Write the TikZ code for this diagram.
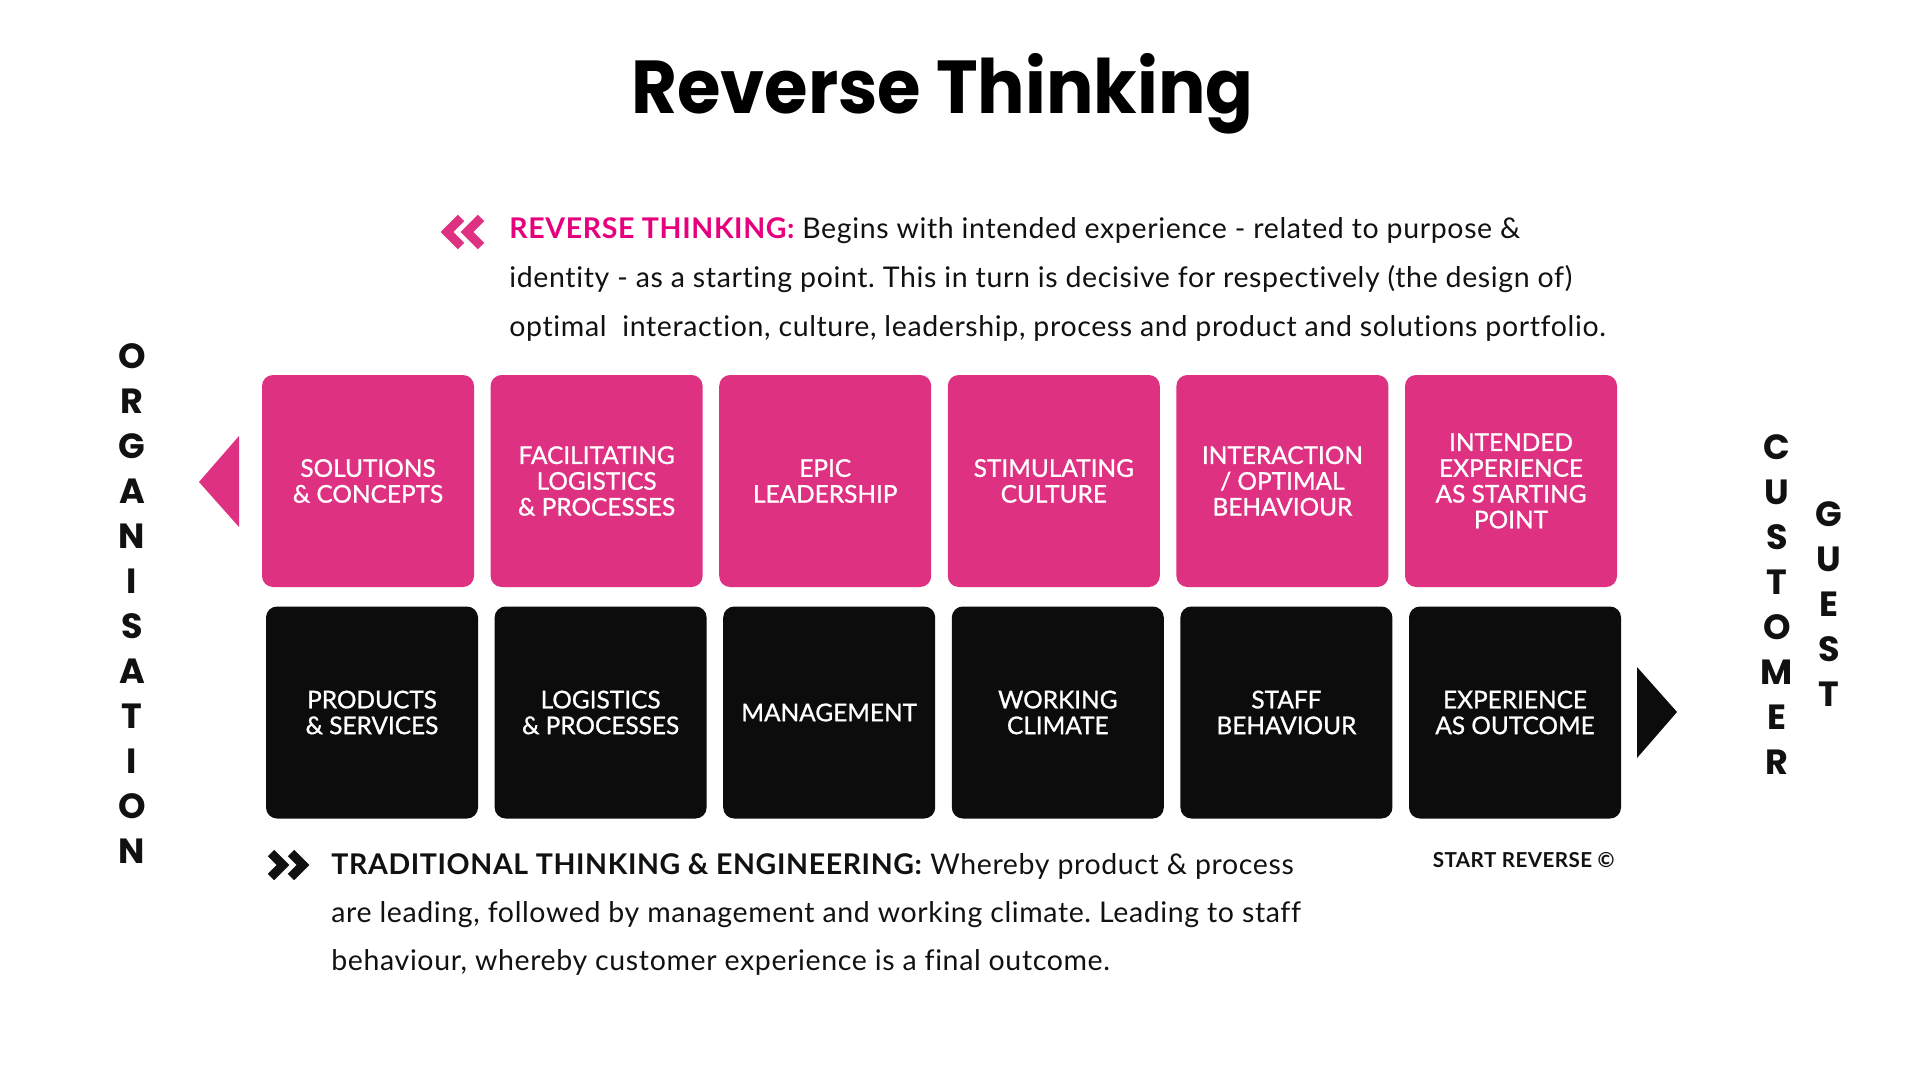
\documentclass[tikz,border=0pt]{standalone}
\usepackage{fontspec}
\setmainfont{Lato}[LetterSpace=2.2, Ligatures=NoCommon]
\newfontfamily\poppins{Poppins}
\newfontfamily\boxfont[FakeBold=1]{Lato}
\frenchspacing
\definecolor{boxpink}{HTML}{DE3182}
\definecolor{hotpink}{HTML}{E6007E}
\definecolor{boxblack}{HTML}{0C0C0C}
\definecolor{ink}{HTML}{111111}
\tikzset{
  tile/.style={rounded corners=5.5pt, minimum width=106pt, minimum height=106pt,
    inner sep=0pt, text=white, align=center,
    font=\boxfont\fontsize{12.2}{12.9}\selectfont},
  pinktile/.style={tile, fill=boxpink},
  blacktile/.style={tile, fill=boxblack},
  bodyline/.style={anchor=base west, inner sep=0pt, text=ink,
    font=\fontsize{14.25}{16}\selectfont},
  vword/.style={inner sep=0pt, align=center, text=ink,
    font=\poppins\bfseries\fontsize{17.5}{22.5}\selectfont},
  chev/.style={line width=4.5pt, line join=miter, line cap=butt},
}
\begin{document}
\begin{tikzpicture}[x=0.5pt,y=-0.5pt]
\useasboundingbox[fill=white] (0,0) rectangle (1920,1080);

% title
\node[anchor=base, inner sep=0pt, text=black,
  font=\poppins\bfseries\fontsize{37.5}{40}\selectfont] (title) at (942.5,114) {\scalebox{0.94}[1]{Reverse Thinking}};

% top explanation
\draw[chev, boxpink] (461,218) -- (447,232) -- (461,246);
\draw[chev, boxpink] (481,218) -- (467,232) -- (481,246);
\node[bodyline] (t1) at (509,239) {\textbf{\textcolor{hotpink}{REVERSE THINKING:}} Begins with intended experience - related to purpose \&};
\node[bodyline] (t2) at (509,287.5) {identity - as a starting point. This in turn is decisive for respectively (the design of)};
\node[bodyline] (t3) at (509,336) {optimal\ \ interaction, culture, leadership, process and product and solutions portfolio.};

% pink row
\node[pinktile] (p1) at (368.0,481) {SOLUTIONS\\\& CONCEPTS};
\node[pinktile] (p2) at (596.6,481) {FACILITATING\\LOGISTICS\\\& PROCESSES};
\node[pinktile] (p3) at (825.2,481) {EPIC\\LEADERSHIP};
\node[pinktile] (p4) at (1053.8,481) {STIMULATING\\CULTURE};
\node[pinktile] (p5) at (1282.4,481) {INTERACTION\\/ OPTIMAL\\BEHAVIOUR};
\node[pinktile] (p6) at (1511.0,481) {INTENDED\\EXPERIENCE\\AS STARTING\\POINT};

% black row
\node[blacktile] (b1) at (372.0,712.5) {PRODUCTS\\\& SERVICES};
\node[blacktile] (b2) at (600.6,712.5) {LOGISTICS\\\& PROCESSES};
\node[blacktile] (b3) at (829.2,712.5) {MANAGEMENT};
\node[blacktile] (b4) at (1057.8,712.5) {WORKING\\CLIMATE};
\node[blacktile] (b5) at (1286.4,712.5) {STAFF\\BEHAVIOUR};
\node[blacktile] (b6) at (1515.0,712.5) {EXPERIENCE\\AS OUTCOME};

% direction triangles
\fill[boxpink] (199,482) -- (239,436) -- (239,527) -- cycle;
\fill[boxblack] (1637,667) -- (1677,712) -- (1637,758) -- cycle;

% vertical words
\node[vword] (org) at (132,603.5) {O\\R\\G\\A\\N\\I\\S\\A\\T\\I\\O\\N};
\node[vword] (cust) at (1777,604.5) {C\\U\\S\\T\\O\\M\\E\\R};
\node[vword] (guest) at (1829,604) {G\\U\\E\\S\\T};

% bottom explanation
\draw[chev, ink] (271,853) -- (283,865) -- (271,877);
\draw[chev, ink] (291,853) -- (303,865) -- (291,877);
\node[bodyline] (u1) at (331,874) {\textbf{TRADITIONAL THINKING \& ENGINEERING:} Whereby product \& process};
\node[bodyline] (u2) at (331,922) {are leading, followed by management and working climate. Leading to staff};
\node[bodyline] (u3) at (331,970) {behaviour, whereby customer experience is a final outcome.};

\node[anchor=base east, inner sep=0pt, text=ink,
  font=\bfseries\fontsize{10.3}{11}\selectfont] (copy) at (1615,867) {START REVERSE ©};
\end{tikzpicture}
\end{document}
